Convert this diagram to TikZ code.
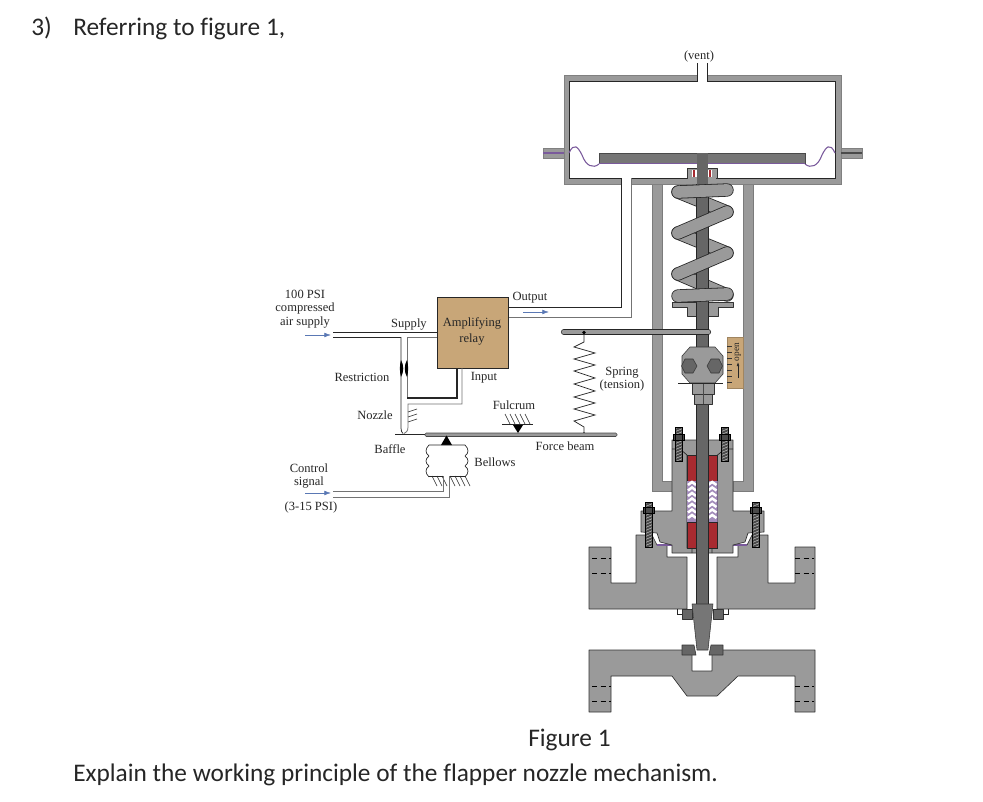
\documentclass[tikz,border=0pt]{standalone}
\usepackage{fontspec}
\setmainfont{Liberation Serif}
\newfontfamily\calfam[Ligatures=NoCommon]{Carlito}
\usetikzlibrary{arrows.meta}
\definecolor{gm}{HTML}{9A9A9A}
\definecolor{gd}{HTML}{666666}
\definecolor{gk}{HTML}{4A4A4A}
\definecolor{tan1}{HTML}{C8A678}
\definecolor{red1}{HTML}{A82A30}
\definecolor{pur}{HTML}{7A5A9C}
\definecolor{blu}{HTML}{5A78B4}
\tikzset{
 lab/.style={font=\fontsize{9.4pt}{9.9pt}\selectfont,inner sep=0pt,align=center,text=black!85},
 big/.style={font=\calfam\fontsize{19pt}{20pt}\selectfont,inner sep=0pt,anchor=base west,text=black!85},
 part/.style={fill=gm,draw=black!80,line width=.5pt,line join=round},
 wall/.style={fill=gm,draw=gm!80!black,line width=.4pt},
 tubeb/.style={draw=black!85,line width=.55pt},
 tubeg/.style={draw=black!55,line width=.6pt},
 flow/.style={draw=blu,line width=.5pt,-{Latex[length=5pt,width=3.5pt]}},
}
\newcommand{\coilseg}[2]{\draw[line cap=round,draw=black!85,line width=10pt] #1 -- #2;\draw[line cap=round,draw=gm,line width=8.8pt] #1 -- #2;}
\newcommand{\boltd}[4]{% x, ytop, ybot, nut y
 \begin{scope}
 \clip (#1-3.5,#2) rectangle (#1+3.5,#3);
 \fill[gk] (#1-3.5,#2) rectangle (#1+3.5,#3);
 \foreach \kk in {0,3,...,48}{\draw[white!80!black,line width=.35pt] (#1-3.5,#2+\kk+1.5) -- (#1+3.5,#2+\kk-1.5);}
 \end{scope}
 \draw[black,fill=gk,line width=.4pt] (#1-5.5,#4) rectangle (#1+5.5,#4+6);
 \draw[black,line width=.4pt] (#1-3.5,#2) rectangle (#1+3.5,#3);
}
\begin{document}
\begin{tikzpicture}[x=.75pt,y=-.75pt]
\useasboundingbox (0,0) rectangle (983,801);
\fill[white] (0,0) rectangle (983,801);
% ---- yoke
\draw[wall] (652,184) -- (652,491) -- (672,491) -- (672,481) -- (662,481) -- (662,184) -- cycle;
\draw[wall] (753,184) -- (753,491) -- (733,491) -- (733,481) -- (743,481) -- (743,184) -- cycle;
% ---- actuator casing
\fill[gm] (564,75) rectangle (841,184);
\fill[white] (569,81) rectangle (835,178);
\draw[black!50,line width=.4pt] (564,75) rectangle (841,184);
\draw[black!85,line width=.55pt] (569,81) rectangle (835,178);
\fill[white] (697.5,73) rectangle (706.5,82);
\fill[white] (621.5,176) rectangle (630.5,186);
\draw[tubeb] (697,63) -- (697,81);
\draw[tubeb] (707,63) -- (707,81);
% ---- flanges
\fill[gm] (543,148) rectangle (564,158);
\fill[gm] (841,148) rectangle (862,158);
\draw[black!50,line width=.4pt] (543,148) rectangle (564,158) (841,148) rectangle (862,158);
\draw[pur,line width=1.2pt] (543,153) -- (564,153);
\draw[gk,line width=1.2pt] (841,153) -- (862,153);
\draw[pur,line width=.8pt] (569,153) .. controls (574,142) and (578,147) .. (582,155) .. controls (586,166) and (593,169) .. (599,164);
\draw[pur,line width=.8pt] (805,164) .. controls (811,169) and (818,166) .. (822,155) .. controls (826,147) and (830,142) .. (835,153);
% ---- diaphragm plate
\draw[fill=gd!70!gm,draw=gk,line width=.4pt] (599,153) rectangle (805,163);
\draw[pur,line width=1pt] (599,163.5) -- (805,163.5);
% ---- output tube
\draw[tubeb] (508,307) -- (621,307) -- (621,178);
\draw[tubeg] (508,317) -- (631,317) -- (631,178);
% ---- spring back coils
\coilseg{(678,192)}{(727,212)}
\coilseg{(678,233)}{(727,253)}
\coilseg{(678,274)}{(727,295)}
% ---- upper stem guide
\draw[part,line width=.4pt] (687,168) rectangle (717,178);
\fill[white] (692,170) rectangle (712,178);
\draw[red1,line width=.8pt] (694,170) -- (694,178) (710,170) -- (710,178);
\fill[gm] (688,177) rectangle (716,180);
% ---- lower spring seat
\draw[part,line width=.4pt] (672,302) -- (733,302) -- (733,307) -- (718,307) -- (718,316) -- (687,316) -- (687,307) -- (672,307) -- cycle;
% ---- valve body upper
\draw[part] (589,547) -- (611,547) -- (611,583) -- (636,583) -- (636,535) -- (652,535) -- (657,545) -- (667,545) -- (667,557) -- (687,557) -- (687,609) -- (589,609) -- cycle;
\draw[part] (815,547) -- (795,547) -- (795,583) -- (768,583) -- (768,535) -- (752,535) -- (747,545) -- (738,545) -- (738,557) -- (717,557) -- (717,609) -- (815,609) -- cycle;
\draw[pur,line width=.9pt] (657,545) -- (672,545) (733,545) -- (747,545);
\foreach \yy in {558,573}{
 \draw[black,line width=.7pt,dash pattern=on 4pt off 2.5pt] (592,\yy) -- (611,\yy);
 \draw[black,line width=.7pt,dash pattern=on 4pt off 2.5pt] (795,\yy) -- (814,\yy);
}
% ---- bonnet
\draw[part] (672,440) -- (697,440) -- (697,553) -- (672,553) -- (672,545) -- (660,542) -- (657,533) -- (641,532) -- (641,511) -- (672,511) -- cycle;
\draw[part] (733,440) -- (707,440) -- (707,553) -- (733,553) -- (733,545) -- (745,542) -- (748,533) -- (764,532) -- (764,511) -- (733,511) -- cycle;
\draw[black!85,line width=.5pt] (672,449) -- (680,449) -- (687,455) -- (687,548) -- (692,548) -- (692,553);
\draw[black!85,line width=.5pt] (733,449) -- (725,449) -- (717.5,455) -- (717.5,548) -- (712,548) -- (712,553);
% ---- packing
\fill[red1] (687,455) rectangle (697,548) (707,455) rectangle (717.5,548);
\draw[black!85,line width=.4pt] (687,455) rectangle (697,548) (707,455) rectangle (717.5,548);
\fill[pur!70!white] (687,481) rectangle (697,522) (707,481) rectangle (717.5,522);
\foreach \yy in {483,488.5,...,520}{
 \draw[white,line width=1.9pt] (688,\yy+2) -- (692,\yy-1) -- (696,\yy+2);
 \draw[white,line width=1.9pt] (708,\yy+2) -- (712.2,\yy-1) -- (716.5,\yy+2);
}
\draw[black!85,line width=.4pt] (687,522) -- (697,522) (707,522) -- (717.5,522);
% ---- stem
\fill[gd] (696.5,153) rectangle (708,604);
\draw[black!85,line width=.55pt] (696.5,184) -- (696.5,604) (708,184) -- (708,604);
% ---- lever arm
\draw[black!85,line width=4.6pt,line cap=round] (564,332) -- (708,332);
\draw[gm,line width=3.7pt,line cap=round] (564,332) -- (708,332);
% ---- bolts
\boltd{679}{427}{461}{434}
\boltd{725}{427}{461}{434}
\boltd{649}{502}{547}{507}
\boltd{756}{502}{547}{507}
% ---- valve seat and plug
\draw[part,fill=gd,line width=.4pt] (682,609) rectangle (692,619) (713,609) rectangle (723,619);
\draw[black!85,line width=.5pt] (677,609) -- (677,614) -- (682,614) (723,614) -- (728,614) -- (728,609);
\draw[part,line width=.4pt,fill=gd!70!gm] (692,604) -- (713,604) -- (708,650) -- (697,650) -- cycle;
% ---- lower body
\draw[part] (589,650) -- (692,650) -- (692,671) -- (712,671) -- (712,650) -- (815,650) -- (815,712) -- (795,712) -- (795,676) -- (738,676) -- (717,696) -- (687,696) -- (672,676) -- (611,676) -- (611,712) -- (589,712) -- cycle;
\foreach \yy in {686,701}{
 \draw[black,line width=.7pt,dash pattern=on 4pt off 2.5pt] (592,\yy) -- (611,\yy);
 \draw[black,line width=.7pt,dash pattern=on 4pt off 2.5pt] (795,\yy) -- (814,\yy);
}
\draw[part,fill=gd,line width=.4pt] (682,645) -- (694,645) -- (696,655) -- (682,655) -- cycle;
\draw[part,fill=gd,line width=.4pt] (711,645) -- (723,645) -- (723,655) -- (709,655) -- cycle;
% ---- spring front coils
\coilseg{(678,192)}{(727,190)}
\coilseg{(727,212)}{(678,233)}
\coilseg{(727,253)}{(678,274)}
\coilseg{(678,296)}{(727,294)}
% ---- stem connector
\draw[part,line width=.4pt] (692,383) rectangle (714,394);
\draw[gk,line width=.4pt] (703,383) -- (703,394);
\draw[part,line width=.4pt] (694,394) rectangle (712,404);
\draw[gk,line width=.4pt] (703,394) -- (703,404);
\draw[part,line width=.4pt] (690,347) -- (715,347) -- (723,356) -- (723,374) -- (715,383) -- (690,383) -- (682,374) -- (682,356) -- cycle;
\draw[part,fill=gd,line width=.4pt] (697,366) -- (693,373) -- (685,373) -- (681.5,366) -- (685,359) -- (693,359) -- cycle;
\draw[part,fill=gd,line width=.4pt] (722.5,366) -- (719,373) -- (711,373) -- (707,366) -- (711,359) -- (719,359) -- cycle;
\draw[black!85,line width=.8pt] (678,383.5) -- (723,383.5);
% ---- position scale
\draw[fill=tan1,draw=tan1!80!black,line width=.4pt] (727,337) rectangle (743,388);
\foreach \yy in {346,352,...,382}{\draw[black!80,line width=.35pt] (727,\yy) -- (732,\yy);}
\node[inner sep=0pt,rotate=90,font=\fontsize{7pt}{7pt}\selectfont,text=black!85] (openlab) at (738,352) {open};
\coordinate (scaleA) at (738,378);
\coordinate (scaleB) at (738,362);
\draw[black!85,line width=.4pt,-{Latex[length=3pt,width=2pt]}] (scaleA) -- (scaleB);
% ---- balance beam spring
\coordinate (sprT) at (584,332.5);
\coordinate (sprB) at (584,434);
\draw[black!85,line width=.55pt] (sprT) -- (584,342) -- (574,347) -- (595,353) -- (574,359) -- (595,365) -- (574,371) -- (595,378) -- (574,384) -- (595,391) -- (574,397) -- (595,403) -- (574,409) -- (595,415) -- (574,421) -- (584,427) -- (sprB);
\fill[black] (sprT) circle (1.8) (sprB) circle (1.8);
% ---- force beam
\draw[fill=gm,draw=gk,line width=.4pt,rounded corners=1pt] (425,433) rectangle (617,436.5);
\draw[black!85,line width=.6pt] (395,434.5) -- (425,434.5);
% ---- relay
\node[draw=black!85,line width=.55pt,fill=tan1,minimum width=53.25pt,minimum height=53.25pt,inner sep=0pt] (relay) at (472.5,332.5) {};
\node[lab] (relaylab) at (472,331.5) {Amplifying\\[2.3pt]relay};
% ---- pneumatic lines
\coordinate (sup1) at (333,332.5);
\coordinate (sup2) at (333,337.5);
\coordinate (sup3) at (407,337.5);
\draw[tubeb] (sup1) -- (relay.west |- sup1);
\draw[tubeb] (sup2) -- (401,337.5) -- (401,427) .. controls (401,431) and (402,433) .. (403,433.5);
\draw[tubeg] (sup3) -- (relay.west |- sup3);
\draw[tubeg] (sup3) -- (407,398);
\draw[black!85,line width=.8pt] (407,398) -- (457,398) -- (457,368);
\draw[tubeg] (462,368) -- (462,404) -- (408,404) -- (408,427) .. controls (408,431) and (406,433) .. (404,433.5);
\fill[black] (401,360) .. controls (404,365) and (404,372) .. (401,377) .. controls (399.5,372) and (399.5,365) .. (401,360);
\fill[black] (407,360) .. controls (404,365) and (404,372) .. (407,377) .. controls (408.5,372) and (408.5,365) .. (407,360);
\foreach \yy in {411,416,421}{\draw[black!85,line width=.45pt] (408,\yy+1) -- (417,\yy-2);}
% ---- fulcrum
\draw[black!85,line width=.45pt] (502,424.5) -- (533,424.5);
\foreach \xx in {505,510,...,525}{\draw[black!85,line width=.45pt] (\xx,414) -- (\xx+5,424);}
\fill[black] (513,425) -- (523,425) -- (518,433) -- cycle;
% ---- bellows
\fill[black] (441,445) -- (452,445) -- (446.5,435.5) -- cycle;
\draw[black!85,line width=.5pt] (429,477) .. controls (425,473) and (425,469) .. (429,466) .. controls (425,463) and (425,459) .. (429,456) .. controls (425,453) and (425,449) .. (429,445) -- (465,445) .. controls (469,449) and (469,453) .. (465,456) .. controls (469,459) and (469,463) .. (465,466) .. controls (469,469) and (469,473) .. (465,477);
\foreach \xx in {432,437,442}{\draw[black!85,line width=.45pt] (\xx,476) -- (\xx+5,486);}
\foreach \xx in {450,455,460,465}{\draw[black!85,line width=.45pt] (\xx,476) -- (\xx+5,486);}
\draw[black!85,line width=.45pt] (429,476) -- (443,476) (449,476) -- (465,476);
\coordinate (sig1) at (333,491);
\coordinate (sig2) at (333,497);
\draw[tubeg] (sig1) -- (443,491) -- (443,476);
\draw[tubeg] (sig2) -- (449,497) -- (449,476);
% ---- flow arrows
\coordinate (f1a) at (305,335); \coordinate (f1b) at (331,335);
\coordinate (f2a) at (305,493); \coordinate (f2b) at (331,493);
\coordinate (f3a) at (523,312); \coordinate (f3b) at (549,312);
\draw[flow] (f1a) -- (f1b);
\draw[flow] (f2a) -- (f2b);
\draw[flow] (f3a) -- (f3b);
% ---- labels
\node[lab] (l1) at (305,309) {100 PSI\\compressed\\air supply};
\node[lab] (l2) at (409,324) {Supply};
\node[lab] (l3) at (530,298) {Output};
\node[lab] (l4) at (362,377) {Restriction};
\node[lab] (l5) at (484,378) {Input};
\node[lab] (l6) at (514,405) {Fulcrum};
\node[lab] (l7) at (375,415) {Nozzle};
\node[lab] (l8) at (390,449) {Baffle};
\node[lab] (l9) at (495,462) {Bellows};
\node[lab] (l10) at (565,446) {Force beam};
\node[lab] (l11) at (309,476) {Control\\signal};
\node[lab] (l12) at (311,507) {(3-15 PSI)};
\node[lab] (l13) at (622,379) {Spring\\(tension)};
\node[lab] (l14) at (699,56) {(vent)};
% ---- text
\node[big] (t1) at (31,35) {3)};
\node[big] (t2) at (73,35) {Referring to figure 1,};
\node[big] (t3) at (528,746) {Figure 1};
\node[big] (t4) at (73,781) {Explain the working principle of the flapper nozzle mechanism.};
\end{tikzpicture}
\end{document}
